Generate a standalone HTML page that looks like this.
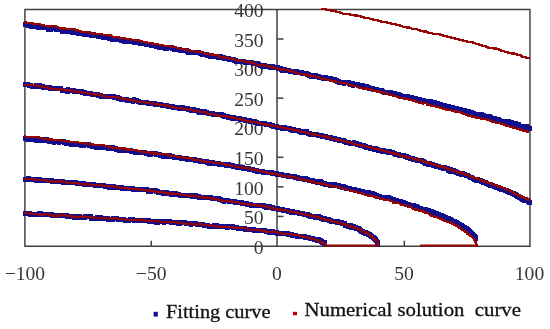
<!DOCTYPE html>
<html><head><meta charset="utf-8"><style>html,body{margin:0;padding:0;background:#fff;}svg{display:block}</style></head>
<body><svg width="550" height="329" viewBox="0 0 550 329">
<text x="263.6" y="253.6" text-anchor="end" font-family="Liberation Serif, serif" font-size="19.6" fill="#3a3434">0</text>
<text x="263.6" y="224.0" text-anchor="end" font-family="Liberation Serif, serif" font-size="19.6" fill="#3a3434">50</text>
<text x="263.6" y="194.5" text-anchor="end" font-family="Liberation Serif, serif" font-size="19.6" fill="#3a3434">100</text>
<text x="263.6" y="164.9" text-anchor="end" font-family="Liberation Serif, serif" font-size="19.6" fill="#3a3434">150</text>
<text x="263.6" y="135.3" text-anchor="end" font-family="Liberation Serif, serif" font-size="19.6" fill="#3a3434">200</text>
<text x="263.6" y="105.8" text-anchor="end" font-family="Liberation Serif, serif" font-size="19.6" fill="#3a3434">250</text>
<text x="263.6" y="76.2" text-anchor="end" font-family="Liberation Serif, serif" font-size="19.6" fill="#3a3434">300</text>
<text x="263.6" y="46.6" text-anchor="end" font-family="Liberation Serif, serif" font-size="19.6" fill="#3a3434">350</text>
<text x="263.6" y="17.0" text-anchor="end" font-family="Liberation Serif, serif" font-size="19.6" fill="#3a3434">400</text>
<text x="24.9" y="279.6" text-anchor="middle" font-family="Liberation Serif, serif" font-size="19.6" fill="#3a3434">−100</text>
<text x="151.2" y="279.6" text-anchor="middle" font-family="Liberation Serif, serif" font-size="19.6" fill="#3a3434">−50</text>
<text x="277" y="279.6" text-anchor="middle" font-family="Liberation Serif, serif" font-size="19.6" fill="#3a3434">0</text>
<text x="404" y="279.6" text-anchor="middle" font-family="Liberation Serif, serif" font-size="19.6" fill="#3a3434">50</text>
<text x="529.5" y="279.6" text-anchor="middle" font-family="Liberation Serif, serif" font-size="19.6" fill="#3a3434">100</text>
<path d="M24.9 9.47H529.95V246.2H24.9Z" fill="none" stroke="#404040" stroke-width="1.45"/>
<line x1="277.0" y1="9.47" x2="277.0" y2="246.2" stroke="#404040" stroke-width="1.5"/>
<line x1="277.0" y1="216.43" x2="283.50" y2="216.43" stroke="#404040" stroke-width="1.5"/>
<line x1="277.0" y1="186.86" x2="283.50" y2="186.86" stroke="#404040" stroke-width="1.5"/>
<line x1="277.0" y1="157.29" x2="283.50" y2="157.29" stroke="#404040" stroke-width="1.5"/>
<line x1="277.0" y1="127.72" x2="283.50" y2="127.72" stroke="#404040" stroke-width="1.5"/>
<line x1="277.0" y1="98.16" x2="283.50" y2="98.16" stroke="#404040" stroke-width="1.5"/>
<line x1="277.0" y1="68.59" x2="283.50" y2="68.59" stroke="#404040" stroke-width="1.5"/>
<line x1="277.0" y1="39.02" x2="283.50" y2="39.02" stroke="#404040" stroke-width="1.5"/>
<line x1="151.2" y1="246.0" x2="151.2" y2="240.7" stroke="#404040" stroke-width="1.5"/>
<line x1="404.3" y1="246.0" x2="404.3" y2="240.7" stroke="#404040" stroke-width="1.5"/>
<path d="M23 22h3v5h-3zM26 22h3v6h-3zM29 22h1v7h-1zM30 23h3v6h-3zM33 24h3v5h-3zM36 24h8v6h-8zM44 25h2v5h-2zM46 25h3v7h-3zM49 27h1v5h-1zM50 26h3v6h-3zM53 26h1v5h-1zM54 26h4v6h-4zM58 27h2v5h-2zM60 27h3v7h-3zM63 29h7v5h-7zM70 29h3v6h-3zM73 30h3v5h-3zM76 30h4v6h-4zM80 31h2v5h-2zM82 31h4v6h-4zM86 32h3v5h-3zM89 32h7v6h-7zM96 33h4v6h-4zM100 34h1v5h-1zM101 34h4v6h-4zM105 35h2v5h-2zM107 35h3v6h-3zM110 35h1v7h-1zM111 36h6v6h-6zM117 37h2v5h-2zM119 37h3v6h-3zM122 37h1v7h-1zM123 38h6v6h-6zM129 39h3v5h-3zM132 39h4v6h-4zM136 40h2v5h-2zM138 40h4v6h-4zM142 41h2v5h-2zM144 41h3v6h-3zM147 42h2v5h-2zM149 42h4v6h-4zM153 43h1v5h-1zM154 43h3v6h-3zM157 43h1v7h-1zM158 44h3v6h-3zM161 45h2v5h-2zM163 45h6v6h-6zM169 45h1v5h-1zM170 45h2v6h-2zM172 45h2v7h-2zM174 46h2v6h-2zM176 47h2v5h-2zM178 47h4v6h-4zM182 48h3v5h-3zM185 48h1v6h-1zM186 48h3v7h-3zM189 49h1v6h-1zM190 50h8v5h-8zM198 50h2v6h-2zM200 50h1v7h-1zM201 51h3v6h-3zM204 52h1v5h-1zM205 52h3v6h-3zM208 52h1v7h-1zM209 53h2v6h-2zM211 54h5v5h-5zM216 54h6v6h-6zM222 54h1v7h-1zM223 55h3v6h-3zM226 56h1v5h-1zM227 56h4v6h-4zM231 57h1v5h-1zM232 57h2v6h-2zM234 57h2v7h-2zM236 58h2v6h-2zM238 59h5v5h-5zM243 59h3v6h-3zM246 60h5v5h-5zM251 60h3v6h-3zM254 61h2v5h-2zM256 61h2v6h-2zM258 61h2v7h-2zM260 62h1v7h-1zM261 63h6v6h-6zM267 64h1v5h-1zM268 64h7v6h-7zM275 65h1v5h-1zM276 65h3v6h-3zM279 65h1v7h-1zM280 66h3v7h-3zM283 67h4v6h-4zM287 68h1v5h-1zM288 68h3v6h-3zM291 69h2v5h-2zM293 69h6v6h-6zM299 70h1v5h-1zM300 70h4v6h-4zM304 71h1v5h-1zM305 71h2v6h-2zM307 71h2v7h-2zM309 72h2v7h-2zM311 73h6v6h-6zM317 73h1v7h-1zM318 74h3v6h-3zM321 75h7v6h-7zM328 76h1v5h-1zM329 76h4v6h-4zM333 77h2v6h-2zM335 77h2v7h-2zM337 78h2v7h-2zM339 79h2v6h-2zM341 80h1v5h-1zM342 80h4v6h-4zM346 80h1v5h-1zM347 80h1v6h-1zM348 80h3v7h-3zM351 81h4v7h-4zM355 82h1v5h-1zM356 82h4v6h-4zM360 83h1v5h-1zM361 83h4v6h-4zM365 84h2v6h-2zM367 84h2v7h-2zM369 85h2v6h-2zM371 86h4v6h-4zM375 87h1v5h-1zM376 87h3v6h-3zM379 88h1v5h-1zM380 88h2v6h-2zM382 88h2v7h-2zM384 89h1v6h-1zM385 90h4v5h-4zM389 90h4v6h-4zM393 91h4v6h-4zM397 92h2v6h-2zM399 92h2v7h-2zM401 93h2v6h-2zM403 94h7v6h-7zM410 95h4v6h-4zM414 96h4v6h-4zM418 97h4v6h-4zM422 98h1v5h-1zM423 98h3v6h-3zM426 99h1v5h-1zM427 99h6v6h-6zM433 100h3v6h-3zM436 100h1v7h-1zM437 101h2v6h-2zM439 101h1v7h-1zM440 102h3v6h-3zM443 103h4v6h-4zM447 104h2v6h-2zM449 104h2v7h-2zM451 105h4v6h-4zM455 106h4v6h-4zM459 107h4v6h-4zM463 108h4v6h-4zM467 109h4v6h-4zM471 110h1v6h-1zM472 110h2v7h-2zM474 111h2v6h-2zM476 112h6v6h-6zM482 112h2v7h-2zM484 113h2v6h-2zM486 114h2v5h-2zM488 114h2v6h-2zM490 114h2v7h-2zM492 115h1v6h-1zM493 116h4v6h-4zM497 117h2v6h-2zM499 117h2v7h-2zM501 118h1v6h-1zM502 119h2v5h-2zM504 119h6v6h-6zM510 119h1v7h-1zM511 120h1v6h-1zM512 120h2v7h-2zM514 121h3v6h-3zM517 121h1v8h-1zM518 122h3v7h-3zM521 124h5v6h-5zM526 124h3v7h-3zM529 125h1v6h-1zM530 126h2v5h-2z" fill="#10108e" shape-rendering="crispEdges"/>
<path d="M23 82h4v5h-4zM27 82h3v6h-3zM30 83h3v6h-3zM33 84h1v5h-1zM34 83h7v6h-7zM41 83h1v7h-1zM42 84h3v6h-3zM45 85h3v5h-3zM48 85h4v6h-4zM52 86h8v5h-8zM60 86h3v7h-3zM63 88h2v5h-2zM65 88h1v6h-1zM66 87h4v7h-4zM70 88h2v5h-2zM72 88h4v6h-4zM76 89h4v5h-4zM80 89h3v6h-3zM83 89h1v7h-1zM84 90h3v6h-3zM87 91h3v5h-3zM90 91h3v6h-3zM93 92h3v5h-3zM96 92h3v6h-3zM99 92h1v7h-1zM100 93h3v6h-3zM103 94h9v5h-9zM112 94h4v6h-4zM116 95h3v6h-3zM119 95h1v7h-1zM120 96h2v6h-2zM122 97h3v5h-3zM125 97h4v6h-4zM129 98h2v5h-2zM131 98h1v6h-1zM132 97h3v7h-3zM135 97h1v6h-1zM136 98h2v6h-2zM138 98h1v7h-1zM139 99h2v6h-2zM141 100h5v5h-5zM146 100h3v6h-3zM149 101h4v5h-4zM153 101h4v6h-4zM157 102h3v5h-3zM160 102h3v6h-3zM163 103h3v5h-3zM166 103h3v6h-3zM169 104h2v5h-2zM171 104h4v6h-4zM175 105h2v5h-2zM177 105h8v6h-8zM185 106h1v5h-1zM186 106h3v6h-3zM189 106h1v7h-1zM190 107h6v6h-6zM196 108h1v6h-1zM197 108h3v7h-3zM200 109h6v6h-6zM206 109h1v7h-1zM207 110h2v6h-2zM209 111h2v5h-2zM211 111h4v6h-4zM215 112h5v5h-5zM220 112h2v6h-2zM222 112h2v7h-2zM224 113h2v6h-2zM226 114h4v6h-4zM230 115h6v6h-6zM236 116h2v5h-2zM238 116h4v6h-4zM242 117h1v5h-1zM243 117h4v6h-4zM247 118h1v5h-1zM248 118h4v6h-4zM252 119h1v5h-1zM253 119h3v6h-3zM256 119h1v7h-1zM257 120h2v6h-2zM259 121h5v5h-5zM264 121h3v6h-3zM267 122h2v5h-2zM269 122h2v6h-2zM271 122h1v7h-1zM272 123h3v6h-3zM275 124h4v6h-4zM279 125h1v5h-1zM280 125h7v6h-7zM287 126h1v5h-1zM288 126h2v6h-2zM290 126h2v7h-2zM292 127h4v6h-4zM296 128h1v5h-1zM297 128h2v6h-2zM299 128h2v7h-2zM301 129h5v6h-5zM306 129h2v7h-2zM308 129h1v8h-1zM309 131h3v6h-3zM312 132h4v5h-4zM316 132h3v6h-3zM319 133h1v5h-1zM320 133h4v6h-4zM324 134h1v5h-1zM325 134h3v6h-3zM328 135h1v5h-1zM329 135h4v6h-4zM333 136h4v6h-4zM337 137h4v6h-4zM341 138h1v5h-1zM342 138h2v6h-2zM344 138h2v7h-2zM346 139h1v6h-1zM347 140h1v5h-1zM348 140h3v6h-3zM351 141h1v5h-1zM352 140h3v6h-3zM355 140h1v7h-1zM356 141h2v6h-2zM358 141h1v7h-1zM359 142h3v6h-3zM362 143h2v6h-2zM364 143h2v7h-2zM366 144h2v6h-2zM368 145h4v6h-4zM372 146h4v6h-4zM376 146h2v7h-2zM378 147h2v6h-2zM380 148h6v6h-6zM386 149h6v6h-6zM392 150h1v6h-1zM393 150h2v7h-2zM395 151h2v6h-2zM397 152h4v6h-4zM401 153h2v5h-2zM403 153h2v6h-2zM405 153h1v7h-1zM406 154h2v6h-2zM408 154h1v7h-1zM409 155h2v6h-2zM411 156h4v6h-4zM415 157h3v6h-3zM418 158h2v5h-2zM420 158h2v6h-2zM422 158h1v7h-1zM423 158h1v8h-1zM424 159h2v7h-2zM426 160h1v7h-1zM427 161h4v6h-4zM431 161h1v7h-1zM432 162h2v6h-2zM434 162h1v7h-1zM435 163h3v6h-3zM438 164h3v6h-3zM441 165h5v6h-5zM446 165h1v8h-1zM447 166h1v7h-1zM448 166h2v8h-2zM450 167h3v7h-3zM453 168h1v6h-1zM454 168h2v7h-2zM456 169h2v7h-2zM458 170h1v6h-1zM459 170h1v7h-1zM460 171h4v6h-4zM464 171h1v7h-1zM465 172h2v6h-2zM467 173h1v6h-1zM468 173h2v7h-2zM470 174h1v6h-1zM471 175h1v6h-1zM472 175h2v7h-2zM474 176h1v7h-1zM475 177h4v6h-4zM479 177h1v7h-1zM480 178h1v6h-1zM481 178h2v7h-2zM483 179h1v6h-1zM484 179h1v7h-1zM485 180h1v6h-1zM486 180h2v7h-2zM488 181h1v7h-1zM489 182h3v6h-3zM492 182h1v7h-1zM493 183h1v6h-1zM494 183h1v7h-1zM495 184h2v6h-2zM497 184h1v7h-1zM498 185h1v6h-1zM499 185h1v7h-1zM500 186h3v6h-3zM503 187h2v6h-2zM505 187h1v7h-1zM506 188h1v6h-1zM507 188h2v7h-2zM509 189h1v6h-1zM510 189h1v7h-1zM511 190h1v6h-1zM512 190h1v7h-1zM513 191h1v6h-1zM514 191h1v7h-1zM515 191h1v8h-1zM516 192h1v7h-1zM517 192h1v8h-1zM518 193h1v7h-1zM519 194h1v7h-1zM520 194h1v8h-1zM521 195h1v7h-1zM522 195h1v8h-1zM523 196h1v7h-1zM524 197h2v6h-2zM526 197h1v7h-1zM527 197h1v8h-1zM528 198h2v7h-2zM530 199h1v6h-1zM531 200h1v5h-1z" fill="#10108e" shape-rendering="crispEdges"/>
<path d="M23 136h2v5h-2zM25 136h4v6h-4zM29 137h5v5h-5zM34 137h13v6h-13zM47 137h2v7h-2zM49 138h2v6h-2zM51 139h1v5h-1zM52 139h4v6h-4zM56 139h1v5h-1zM57 139h4v6h-4zM61 139h1v5h-1zM62 139h2v6h-2zM64 139h2v7h-2zM66 140h1v6h-1zM67 141h2v5h-2zM69 141h9v6h-9zM78 142h1v5h-1zM79 142h3v6h-3zM82 143h1v5h-1zM83 142h3v6h-3zM86 142h1v5h-1zM87 142h3v6h-3zM90 142h1v7h-1zM91 143h3v6h-3zM94 144h8v6h-8zM102 145h4v5h-4zM106 145h8v6h-8zM114 145h1v7h-1zM115 146h2v6h-2zM117 146h1v7h-1zM118 147h7v6h-7zM125 148h4v5h-4zM129 148h4v6h-4zM133 149h4v6h-4zM137 150h7v5h-7zM144 150h3v6h-3zM147 151h6v6h-6zM153 151h1v5h-1zM154 151h4v6h-4zM158 152h3v6h-3zM161 152h1v7h-1zM162 153h10v6h-10zM172 154h3v6h-3zM175 155h4v5h-4zM179 155h3v6h-3zM182 156h3v5h-3zM185 156h4v6h-4zM189 157h4v5h-4zM193 157h4v6h-4zM197 158h1v5h-1zM198 158h4v6h-4zM202 159h3v5h-3zM205 159h2v6h-2zM207 159h2v7h-2zM209 160h6v6h-6zM215 161h2v5h-2zM217 161h4v6h-4zM221 162h3v5h-3zM224 162h7v6h-7zM231 163h4v6h-4zM235 164h4v6h-4zM239 165h2v5h-2zM241 165h4v6h-4zM245 166h2v5h-2zM247 166h4v6h-4zM251 167h1v5h-1zM252 167h3v6h-3zM255 168h4v6h-4zM259 169h2v5h-2zM261 169h4v6h-4zM265 170h5v5h-5zM270 170h4v6h-4zM274 171h1v5h-1zM275 171h4v6h-4zM279 172h2v5h-2zM281 172h3v6h-3zM284 173h2v5h-2zM286 173h4v6h-4zM290 174h3v5h-3zM293 174h3v6h-3zM296 174h1v7h-1zM297 175h3v6h-3zM300 176h2v5h-2zM302 176h5v6h-5zM307 176h1v7h-1zM308 177h2v6h-2zM310 178h1v5h-1zM311 178h4v6h-4zM315 179h5v6h-5zM320 179h3v7h-3zM323 180h1v7h-1zM324 181h3v6h-3zM327 182h1v5h-1zM328 182h9v6h-9zM337 183h3v6h-3zM340 183h1v7h-1zM341 184h3v6h-3zM344 184h2v7h-2zM346 185h2v6h-2zM348 186h1v5h-1zM349 186h3v6h-3zM352 187h1v5h-1zM353 187h4v6h-4zM357 188h4v6h-4zM361 189h4v6h-4zM365 190h6v6h-6zM371 191h1v5h-1zM372 191h1v6h-1zM373 191h2v7h-2zM375 192h2v7h-2zM377 193h2v6h-2zM379 194h3v6h-3zM382 195h1v5h-1zM383 195h7v6h-7zM390 195h1v7h-1zM391 196h1v6h-1zM392 196h1v7h-1zM393 197h3v6h-3zM396 198h3v6h-3zM399 199h3v6h-3zM402 199h1v7h-1zM403 200h1v6h-1zM404 200h2v7h-2zM406 201h1v6h-1zM407 201h1v7h-1zM408 202h3v6h-3zM411 203h1v5h-1zM412 203h3v6h-3zM415 203h1v7h-1zM416 204h1v6h-1zM417 204h2v7h-2zM419 205h1v6h-1zM420 206h3v6h-3zM423 207h1v5h-1zM424 207h3v6h-3zM427 207h1v7h-1zM428 208h2v6h-2zM430 208h1v7h-1zM431 209h1v6h-1zM432 209h2v7h-2zM434 210h1v6h-1zM435 210h1v7h-1zM436 211h1v6h-1zM437 211h2v7h-2zM439 212h1v6h-1zM440 212h1v7h-1zM441 213h1v6h-1zM442 213h2v7h-2zM444 214h1v6h-1zM445 214h1v7h-1zM446 215h1v6h-1zM447 215h1v7h-1zM448 216h1v6h-1zM449 216h1v7h-1zM450 216h1v8h-1zM451 217h1v7h-1zM452 217h1v8h-1zM453 218h1v7h-1zM454 219h1v6h-1zM455 219h2v7h-2zM457 220h1v7h-1zM458 220h1v8h-1zM459 221h1v7h-1zM460 222h2v7h-2zM462 223h1v7h-1zM463 223h1v8h-1zM464 224h1v7h-1zM465 225h1v7h-1zM466 225h1v8h-1zM467 226h1v8h-1zM468 226h1v9h-1zM469 227h1v8h-1zM470 228h1v8h-1zM471 229h1v9h-1zM472 230h1v9h-1zM473 231h1v9h-1zM474 232h1v9h-1zM475 233h1v8h-1zM476 234h1v7h-1zM477 235h1v6h-1z" fill="#10108e" shape-rendering="crispEdges"/>
<path d="M23 177h3v5h-3zM26 176h5v6h-5zM31 177h3v5h-3zM34 177h8v6h-8zM42 178h8v5h-8zM50 178h4v6h-4zM54 179h7v5h-7zM61 179h4v6h-4zM65 180h10v5h-10zM75 180h3v6h-3zM78 181h4v5h-4zM82 181h4v6h-4zM86 182h7v5h-7zM93 182h3v6h-3zM96 183h7v5h-7zM103 183h3v6h-3zM106 184h1v5h-1zM107 184h9v6h-9zM116 185h4v5h-4zM120 185h4v6h-4zM124 186h7v5h-7zM131 186h4v6h-4zM135 187h11v5h-11zM146 187h3v7h-3zM149 188h4v6h-4zM153 188h1v5h-1zM154 188h2v6h-2zM156 188h2v7h-2zM158 189h2v6h-2zM160 190h1v5h-1zM161 190h8v6h-8zM169 191h9v6h-9zM178 192h3v6h-3zM181 193h9v5h-9zM190 193h7v6h-7zM197 193h1v7h-1zM198 194h3v6h-3zM201 195h9v5h-9zM210 195h3v6h-3zM213 196h4v5h-4zM217 196h3v6h-3zM220 196h1v7h-1zM221 197h1v6h-1zM222 197h1v7h-1zM223 198h3v6h-3zM226 198h1v5h-1zM227 198h3v6h-3zM230 199h3v5h-3zM233 199h4v6h-4zM237 200h3v5h-3zM240 200h4v6h-4zM244 201h1v5h-1zM245 201h4v6h-4zM249 202h4v6h-4zM253 203h9v5h-9zM262 203h2v6h-2zM264 203h2v7h-2zM266 204h5v6h-5zM271 204h1v7h-1zM272 205h3v6h-3zM275 206h1v5h-1zM276 206h4v6h-4zM280 207h1v5h-1zM281 207h4v6h-4zM285 208h1v5h-1zM286 208h3v6h-3zM289 208h1v7h-1zM290 209h5v6h-5zM295 210h2v5h-2zM297 210h3v6h-3zM300 211h2v5h-2zM302 211h3v6h-3zM305 212h1v5h-1zM306 212h2v6h-2zM308 212h2v7h-2zM310 213h2v6h-2zM312 214h1v5h-1zM313 214h6v6h-6zM319 214h2v7h-2zM321 215h2v7h-2zM323 216h4v6h-4zM327 217h2v6h-2zM329 217h2v7h-2zM331 218h2v6h-2zM333 219h2v5h-2zM335 219h5v6h-5zM340 220h3v6h-3zM343 220h1v8h-1zM344 221h2v7h-2zM346 221h1v8h-1zM347 223h2v6h-2zM349 223h4v7h-4zM353 224h1v6h-1zM354 224h2v7h-2zM356 225h1v6h-1zM357 225h1v7h-1zM358 226h1v7h-1zM359 226h2v8h-2zM361 227h1v8h-1zM362 228h1v7h-1zM363 229h2v7h-2zM365 230h1v6h-1zM366 230h2v7h-2zM368 231h1v7h-1zM369 231h1v8h-1zM370 232h1v7h-1zM371 232h1v8h-1zM372 233h1v8h-1zM373 234h1v8h-1zM374 235h1v8h-1zM375 235h1v10h-1zM376 236h1v11h-1zM377 237h1v10h-1zM378 239h1v8h-1zM379 240h1v7h-1z" fill="#10108e" shape-rendering="crispEdges"/>
<path d="M23 211h5v5h-5zM28 211h4v6h-4zM32 212h5v5h-5zM37 211h6v6h-6zM43 212h7v5h-7zM50 212h4v6h-4zM54 213h11v5h-11zM65 213h4v6h-4zM69 214h3v5h-3zM72 214h10v6h-10zM82 215h1v5h-1zM83 214h4v6h-4zM87 214h2v5h-2zM89 214h4v7h-4zM93 216h2v5h-2zM95 215h8v6h-8zM103 216h3v5h-3zM106 216h4v6h-4zM110 217h1v5h-1zM111 216h4v6h-4zM115 216h1v5h-1zM116 216h3v6h-3zM119 217h4v5h-4zM123 217h3v6h-3zM126 218h2v5h-2zM128 217h3v6h-3zM131 217h1v5h-1zM132 217h3v6h-3zM135 218h12v5h-12zM147 218h4v6h-4zM151 219h3v5h-3zM154 219h6v6h-6zM160 219h2v5h-2zM162 219h4v6h-4zM166 219h3v5h-3zM169 219h3v6h-3zM172 220h4v5h-4zM176 220h6v6h-6zM182 220h2v5h-2zM184 220h3v6h-3zM187 221h2v5h-2zM189 221h4v6h-4zM193 221h2v5h-2zM195 221h3v6h-3zM198 222h4v5h-4zM202 222h3v6h-3zM205 223h2v5h-2zM207 223h3v6h-3zM210 224h2v5h-2zM212 223h7v6h-7zM219 224h6v5h-6zM225 224h5v6h-5zM230 224h1v5h-1zM231 224h4v6h-4zM235 225h1v5h-1zM236 225h3v6h-3zM239 226h4v5h-4zM243 226h4v6h-4zM247 227h5v5h-5zM252 227h4v6h-4zM256 228h8v5h-8zM264 228h3v6h-3zM267 229h8v6h-8zM275 230h4v6h-4zM279 231h7v5h-7zM286 231h4v6h-4zM290 232h4v6h-4zM294 233h1v5h-1zM295 233h3v6h-3zM298 234h5v5h-5zM303 234h4v6h-4zM307 235h1v5h-1zM308 235h3v6h-3zM311 236h1v5h-1zM312 236h3v6h-3zM315 237h4v6h-4zM319 237h1v7h-1zM320 237h1v8h-1zM321 238h1v7h-1zM322 238h1v8h-1zM323 239h1v7h-1zM324 240h3v6h-3z" fill="#10108e" shape-rendering="crispEdges"/>
<path d="M24 21h1v2h-1zM25 21h2v3h-2zM27 22h5v2h-5zM32 22h2v3h-2zM34 23h6v2h-6zM40 23h1v3h-1zM41 24h3v2h-3zM44 24h1v3h-1zM45 25h3v2h-3zM48 25h2v3h-2zM50 25h5v2h-5zM55 25h2v3h-2zM57 26h1v2h-1zM58 26h1v3h-1zM59 27h2v2h-2zM61 27h5v3h-5zM66 28h8v2h-8zM74 28h2v3h-2zM76 29h1v2h-1zM77 29h2v3h-2zM79 30h1v2h-1zM80 30h2v3h-2zM82 31h7v2h-7zM89 31h2v3h-2zM91 32h1v2h-1zM92 32h2v3h-2zM94 33h7v2h-7zM101 33h2v3h-2zM103 34h7v2h-7zM110 34h1v3h-1zM111 34h1v4h-1zM112 35h1v3h-1zM113 36h5v2h-5zM118 36h2v3h-2zM120 37h4v2h-4zM124 37h2v3h-2zM126 38h4v2h-4zM130 38h2v3h-2zM132 39h6v2h-6zM138 39h2v3h-2zM140 40h1v2h-1zM141 40h2v3h-2zM143 41h3v2h-3zM146 41h2v3h-2zM148 42h4v2h-4zM152 42h2v3h-2zM154 43h3v2h-3zM157 43h2v3h-2zM159 44h4v2h-4zM163 44h1v3h-1zM164 45h6v2h-6zM170 45h2v3h-2zM172 46h4v2h-4zM176 46h1v3h-1zM177 47h2v2h-2zM179 47h1v3h-1zM180 48h4v2h-4zM184 48h2v3h-2zM186 49h3v2h-3zM189 49h2v3h-2zM191 50h3v2h-3zM194 50h2v3h-2zM196 51h6v2h-6zM202 51h2v3h-2zM204 52h2v3h-2zM206 53h4v2h-4zM210 53h4v3h-4zM214 54h3v2h-3zM217 54h1v3h-1zM218 54h1v4h-1zM219 55h1v3h-1zM220 56h2v2h-2zM222 56h4v3h-4zM226 57h3v2h-3zM229 57h2v3h-2zM231 58h3v2h-3zM234 58h2v3h-2zM236 59h1v2h-1zM237 59h1v3h-1zM238 60h1v2h-1zM239 59h2v3h-2zM241 60h3v2h-3zM244 60h2v3h-2zM246 61h3v2h-3zM249 61h4v3h-4zM253 62h2v3h-2zM255 63h1v2h-1zM256 63h1v3h-1zM257 64h6v2h-6zM263 64h1v3h-1zM264 65h1v2h-1zM265 64h2v3h-2zM267 65h2v2h-2zM269 65h2v3h-2zM271 66h1v2h-1zM272 66h2v3h-2zM274 67h3v2h-3zM277 67h1v3h-1zM278 68h1v2h-1zM279 68h3v3h-3zM282 68h2v2h-2zM284 68h1v3h-1zM285 69h3v2h-3zM288 69h2v3h-2zM290 70h2v2h-2zM292 70h2v3h-2zM294 71h1v2h-1zM295 71h2v3h-2zM297 72h2v3h-2zM299 73h5v2h-5zM304 73h2v3h-2zM306 74h2v2h-2zM308 74h4v3h-4zM312 75h3v2h-3zM315 75h1v3h-1zM316 76h3v2h-3zM319 76h1v3h-1zM320 77h1v2h-1zM321 77h2v3h-2zM323 78h3v2h-3zM326 78h1v3h-1zM327 79h3v2h-3zM330 79h2v3h-2zM332 80h2v2h-2zM334 80h2v3h-2zM336 81h3v2h-3zM339 81h1v3h-1zM340 82h5v2h-5zM345 82h2v3h-2zM347 83h2v3h-2zM349 84h2v2h-2zM351 84h2v3h-2zM353 85h3v2h-3zM356 85h1v3h-1zM357 86h1v2h-1zM358 86h1v3h-1zM359 87h3v2h-3zM362 87h1v3h-1zM363 88h2v2h-2zM365 87h3v3h-3zM368 88h2v2h-2zM370 88h2v3h-2zM372 89h2v3h-2zM374 90h2v2h-2zM376 90h4v3h-4zM380 91h2v2h-2zM382 91h2v3h-2zM384 92h2v2h-2zM386 92h2v3h-2zM388 93h2v3h-2zM390 94h2v2h-2zM392 94h2v3h-2zM394 95h2v2h-2zM396 95h2v3h-2zM398 96h2v3h-2zM400 97h4v2h-4zM404 97h2v3h-2zM406 98h2v2h-2zM408 98h2v3h-2zM410 99h2v2h-2zM412 99h2v3h-2zM414 100h1v2h-1zM415 100h2v3h-2zM417 101h1v2h-1zM418 101h2v3h-2zM420 102h2v2h-2zM422 102h2v3h-2zM424 102h2v2h-2zM426 102h2v4h-2zM428 104h2v2h-2zM430 104h1v3h-1zM431 105h4v2h-4zM435 105h2v3h-2zM437 106h2v2h-2zM439 106h2v3h-2zM441 107h1v2h-1zM442 107h2v3h-2zM444 108h1v2h-1zM445 108h2v3h-2zM447 109h4v2h-4zM451 109h1v3h-1zM452 110h2v2h-2zM454 110h4v3h-4zM458 111h2v2h-2zM460 111h2v3h-2zM462 112h2v3h-2zM464 113h1v2h-1zM465 113h2v3h-2zM467 114h2v3h-2zM469 115h2v2h-2zM471 115h2v3h-2zM473 116h2v2h-2zM475 116h3v3h-3zM478 117h2v2h-2zM480 117h2v3h-2zM482 118h4v2h-4zM486 118h1v3h-1zM487 119h2v2h-2zM489 119h2v3h-2zM491 120h2v3h-2zM493 121h2v2h-2zM495 121h1v3h-1zM496 122h4v2h-4zM500 122h2v3h-2zM502 123h1v2h-1zM503 123h2v3h-2zM505 124h2v3h-2zM507 125h2v2h-2zM509 125h1v3h-1zM510 126h2v2h-2zM512 126h2v3h-2zM514 127h2v2h-2zM516 127h1v3h-1zM517 128h2v2h-2zM519 128h2v3h-2zM521 129h1v2h-1zM522 129h2v3h-2zM524 130h2v2h-2zM526 130h2v3h-2zM528 131h1v2h-1z" fill="#960404" shape-rendering="crispEdges"/>
<path d="M24 84h11v2h-11zM35 84h2v3h-2zM37 85h4v2h-4zM41 85h1v3h-1zM42 86h4v2h-4zM46 86h2v3h-2zM48 87h1v2h-1zM49 87h2v3h-2zM51 88h6v2h-6zM57 88h1v3h-1zM58 89h1v2h-1zM59 88h1v3h-1zM60 88h2v2h-2zM62 88h1v3h-1zM63 89h4v2h-4zM67 89h3v3h-3zM70 89h1v2h-1zM71 89h1v3h-1zM72 90h2v2h-2zM74 90h2v3h-2zM76 91h5v2h-5zM81 91h2v3h-2zM83 92h5v2h-5zM88 92h2v3h-2zM90 93h4v2h-4zM94 93h3v3h-3zM97 93h1v2h-1zM98 93h1v3h-1zM99 94h2v2h-2zM101 94h2v3h-2zM103 95h2v2h-2zM105 95h2v3h-2zM107 96h10v2h-10zM117 96h2v3h-2zM119 97h2v2h-2zM121 97h2v3h-2zM123 98h4v2h-4zM127 98h2v3h-2zM129 99h4v2h-4zM133 99h2v3h-2zM135 100h1v2h-1zM136 100h2v3h-2zM138 101h7v2h-7zM145 101h2v3h-2zM147 102h4v2h-4zM151 102h2v3h-2zM153 103h4v2h-4zM157 103h2v3h-2zM159 104h5v2h-5zM164 104h2v3h-2zM166 104h1v2h-1zM167 104h1v3h-1zM168 105h1v2h-1zM169 105h2v3h-2zM171 106h2v2h-2zM173 106h2v3h-2zM175 107h6v2h-6zM181 107h2v3h-2zM183 108h7v2h-7zM190 108h1v3h-1zM191 109h2v2h-2zM193 109h2v3h-2zM195 110h3v2h-3zM198 110h2v3h-2zM200 111h6v2h-6zM206 111h1v4h-1zM207 112h1v3h-1zM208 113h7v2h-7zM215 113h1v3h-1zM216 114h1v2h-1zM217 114h2v3h-2zM219 115h6v2h-6zM225 115h2v3h-2zM227 116h4v2h-4zM231 116h2v3h-2zM233 117h3v2h-3zM236 117h2v3h-2zM238 118h3v2h-3zM241 118h2v3h-2zM243 119h1v2h-1zM244 119h2v3h-2zM246 120h3v2h-3zM249 120h2v3h-2zM251 121h6v2h-6zM257 121h1v3h-1zM258 122h1v2h-1zM259 122h2v3h-2zM261 123h3v2h-3zM264 123h4v3h-4zM268 124h3v2h-3zM271 124h2v3h-2zM273 125h3v2h-3zM276 125h2v3h-2zM278 126h3v2h-3zM281 126h2v3h-2zM283 127h3v2h-3zM286 127h2v3h-2zM288 128h3v2h-3zM291 128h2v3h-2zM293 129h4v2h-4zM297 129h2v3h-2zM299 130h1v2h-1zM300 130h2v3h-2zM302 131h3v2h-3zM305 131h2v3h-2zM307 132h2v2h-2zM309 132h1v3h-1zM310 133h2v2h-2zM312 133h4v3h-4zM316 134h3v2h-3zM319 134h1v3h-1zM320 135h3v2h-3zM323 135h4v3h-4zM327 136h1v2h-1zM328 136h2v3h-2zM330 137h1v3h-1zM331 138h5v2h-5zM336 138h2v3h-2zM338 139h3v2h-3zM341 139h1v3h-1zM342 140h3v2h-3zM345 140h2v3h-2zM347 141h2v2h-2zM349 141h2v3h-2zM351 142h1v2h-1zM352 142h1v3h-1zM353 143h2v2h-2zM355 143h2v3h-2zM357 144h3v2h-3zM360 144h3v3h-3zM363 145h3v2h-3zM366 145h1v3h-1zM367 146h3v2h-3zM370 146h2v3h-2zM372 147h2v2h-2zM374 147h1v3h-1zM375 148h3v2h-3zM378 148h2v3h-2zM380 149h2v2h-2zM382 149h1v3h-1zM383 150h3v2h-3zM386 150h1v3h-1zM387 151h2v2h-2zM389 151h2v3h-2zM391 152h2v2h-2zM393 152h2v3h-2zM395 153h3v2h-3zM398 153h1v3h-1zM399 153h1v4h-1zM400 154h1v3h-1zM401 155h1v2h-1zM402 155h4v3h-4zM406 156h2v2h-2zM408 156h2v3h-2zM410 157h2v2h-2zM412 157h1v3h-1zM413 158h1v2h-1zM414 158h5v3h-5zM419 159h2v2h-2zM421 159h1v3h-1zM422 160h2v3h-2zM424 161h2v2h-2zM426 161h3v3h-3zM429 162h1v2h-1zM430 162h2v3h-2zM432 163h1v2h-1zM433 163h1v3h-1zM434 164h2v2h-2zM436 164h2v3h-2zM438 165h1v2h-1zM439 165h4v3h-4zM443 166h1v2h-1zM444 166h2v3h-2zM446 167h2v3h-2zM448 168h1v2h-1zM449 168h2v3h-2zM451 169h1v2h-1zM452 169h2v3h-2zM454 170h1v2h-1zM455 170h2v3h-2zM457 171h2v3h-2zM459 171h1v2h-1zM460 171h2v3h-2zM462 172h2v3h-2zM464 173h2v3h-2zM466 174h2v2h-2zM468 174h1v3h-1zM469 175h1v2h-1zM470 175h2v3h-2zM472 176h1v2h-1zM473 176h2v3h-2zM475 177h1v2h-1zM476 177h2v3h-2zM478 178h1v2h-1zM479 178h2v3h-2zM481 179h2v3h-2zM483 180h2v3h-2zM485 181h2v2h-2zM487 181h2v3h-2zM489 182h1v2h-1zM490 182h2v3h-2zM492 183h1v2h-1zM493 183h1v3h-1zM494 184h1v2h-1zM495 184h2v3h-2zM497 185h1v2h-1zM498 185h3v3h-3zM501 186h1v2h-1zM502 186h1v3h-1zM503 187h1v2h-1zM504 187h1v3h-1zM505 187h1v4h-1zM506 188h1v3h-1zM507 189h1v2h-1zM508 189h1v3h-1zM509 190h1v2h-1zM510 190h2v3h-2zM512 191h2v3h-2zM514 192h2v3h-2zM516 193h1v3h-1zM517 194h1v2h-1zM518 194h2v3h-2zM520 195h3v3h-3zM523 196h2v3h-2zM525 197h2v3h-2zM527 198h2v3h-2zM529 199h1v2h-1z" fill="#960404" shape-rendering="crispEdges"/>
<path d="M24 135h1v2h-1zM25 135h1v3h-1zM26 136h12v2h-12zM38 136h2v3h-2zM40 137h3v2h-3zM43 137h1v3h-1zM44 138h3v2h-3zM47 138h3v3h-3zM50 138h1v2h-1zM51 138h2v3h-2zM53 139h7v2h-7zM60 139h1v3h-1zM61 140h7v2h-7zM68 140h2v3h-2zM70 141h8v2h-8zM78 141h1v3h-1zM79 142h5v2h-5zM84 142h2v3h-2zM86 143h6v2h-6zM92 143h2v3h-2zM94 144h9v2h-9zM103 144h2v3h-2zM105 145h2v2h-2zM107 145h2v3h-2zM109 146h2v2h-2zM111 146h2v3h-2zM113 147h5v2h-5zM118 147h4v3h-4zM122 147h2v2h-2zM124 147h1v3h-1zM125 147h1v4h-1zM126 148h5v3h-5zM131 149h5v2h-5zM136 149h2v3h-2zM138 150h2v2h-2zM140 150h2v3h-2zM142 151h4v2h-4zM146 151h5v3h-5zM151 152h2v2h-2zM153 152h5v3h-5zM158 153h8v2h-8zM166 153h2v3h-2zM168 154h1v2h-1zM169 154h2v3h-2zM171 155h5v2h-5zM176 155h2v3h-2zM178 156h4v2h-4zM182 156h2v3h-2zM184 157h4v2h-4zM188 157h2v3h-2zM190 157h1v2h-1zM191 157h1v3h-1zM192 157h1v4h-1zM193 158h1v3h-1zM194 159h6v2h-6zM200 159h2v3h-2zM202 160h1v2h-1zM203 160h2v3h-2zM205 161h7v2h-7zM212 161h2v3h-2zM214 162h7v2h-7zM221 162h2v3h-2zM223 163h1v2h-1zM224 163h2v3h-2zM226 164h4v2h-4zM230 164h1v3h-1zM231 165h4v2h-4zM235 165h1v3h-1zM236 166h5v2h-5zM241 166h1v3h-1zM242 167h7v2h-7zM249 167h2v3h-2zM251 168h2v3h-2zM253 169h4v2h-4zM257 169h2v3h-2zM259 170h3v2h-3zM262 170h2v3h-2zM264 171h2v2h-2zM266 171h2v3h-2zM268 172h2v2h-2zM270 172h4v3h-4zM274 173h3v2h-3zM277 173h2v3h-2zM279 174h1v2h-1zM280 174h2v3h-2zM282 175h5v2h-5zM287 175h4v3h-4zM291 176h4v2h-4zM295 176h1v3h-1zM296 177h1v2h-1zM297 177h2v3h-2zM299 178h3v2h-3zM302 178h1v3h-1zM303 179h3v2h-3zM306 179h2v3h-2zM308 180h3v2h-3zM311 180h2v3h-2zM313 181h2v3h-2zM315 182h5v2h-5zM320 182h2v3h-2zM322 183h2v2h-2zM324 183h2v3h-2zM326 184h3v2h-3zM329 184h2v3h-2zM331 185h2v2h-2zM333 185h2v3h-2zM335 186h5v2h-5zM340 186h1v3h-1zM341 187h1v2h-1zM342 187h2v3h-2zM344 188h2v2h-2zM346 188h1v3h-1zM347 189h3v2h-3zM350 189h1v3h-1zM351 190h3v2h-3zM354 190h2v3h-2zM356 191h2v2h-2zM358 191h1v3h-1zM359 192h3v2h-3zM362 192h1v3h-1zM363 193h1v2h-1zM364 193h1v3h-1zM365 194h2v2h-2zM367 194h4v3h-4zM371 195h2v2h-2zM373 195h2v3h-2zM375 196h2v2h-2zM377 196h1v3h-1zM378 197h2v2h-2zM380 197h2v3h-2zM382 198h2v2h-2zM384 198h1v3h-1zM385 199h4v2h-4zM389 199h2v3h-2zM391 200h1v2h-1zM392 200h1v4h-1zM393 201h1v3h-1zM394 202h1v2h-1zM395 201h2v3h-2zM397 202h2v2h-2zM399 202h1v3h-1zM400 203h2v3h-2zM402 204h3v2h-3zM405 204h2v3h-2zM407 205h1v2h-1zM408 205h2v3h-2zM410 206h1v2h-1zM411 206h1v3h-1zM412 206h1v4h-1zM413 208h1v2h-1zM414 208h3v3h-3zM417 209h1v2h-1zM418 209h3v3h-3zM421 210h1v2h-1zM422 210h2v3h-2zM424 211h3v3h-3zM427 212h1v2h-1zM428 212h1v3h-1zM429 213h1v3h-1zM430 214h2v3h-2zM432 215h1v2h-1zM433 215h2v3h-2zM435 216h2v2h-2zM437 216h1v3h-1zM438 217h1v2h-1zM439 217h2v3h-2zM441 218h2v3h-2zM443 219h2v3h-2zM445 220h1v2h-1zM446 220h1v3h-1zM447 221h2v2h-2zM449 221h2v3h-2zM451 222h2v3h-2zM453 223h2v3h-2zM455 224h2v3h-2zM457 225h1v3h-1zM458 225h1v4h-1zM459 226h1v3h-1zM460 227h1v3h-1zM461 228h2v3h-2zM463 229h1v3h-1zM464 230h2v3h-2zM466 231h2v4h-2zM468 233h1v3h-1zM469 233h1v4h-1zM470 234h1v3h-1zM471 235h1v3h-1zM472 236h1v3h-1zM473 236h1v5h-1zM474 238h1v5h-1zM475 239h1v7h-1zM476 241h1v6h-1zM477 244h1v3h-1z" fill="#960404" shape-rendering="crispEdges"/>
<path d="M24 178h10v2h-10zM34 178h1v3h-1zM35 179h10v2h-10zM45 179h2v3h-2zM47 180h5v2h-5zM52 180h2v3h-2zM54 181h3v2h-3zM57 180h2v3h-2zM59 180h2v2h-2zM61 180h2v3h-2zM63 181h3v2h-3zM66 181h1v3h-1zM67 182h11v2h-11zM78 182h2v3h-2zM80 183h3v2h-3zM83 183h3v3h-3zM86 183h3v2h-3zM89 183h1v3h-1zM90 184h12v2h-12zM102 184h1v3h-1zM103 185h6v2h-6zM109 185h2v3h-2zM111 185h2v2h-2zM113 185h2v3h-2zM115 186h3v2h-3zM118 186h2v3h-2zM120 187h7v2h-7zM127 187h2v3h-2zM129 188h10v2h-10zM139 188h2v3h-2zM141 189h5v2h-5zM146 189h1v3h-1zM147 190h2v2h-2zM149 189h3v3h-3zM152 190h2v2h-2zM154 190h2v3h-2zM156 191h7v2h-7zM163 191h2v3h-2zM165 192h2v2h-2zM167 192h6v3h-6zM173 193h6v2h-6zM179 193h2v3h-2zM181 194h6v2h-6zM187 194h2v3h-2zM189 195h2v2h-2zM191 194h2v3h-2zM193 195h3v2h-3zM196 195h2v3h-2zM198 196h4v2h-4zM202 196h2v3h-2zM204 197h2v2h-2zM206 196h2v3h-2zM208 197h3v2h-3zM211 197h2v3h-2zM213 198h4v2h-4zM217 198h2v3h-2zM219 199h2v2h-2zM221 199h1v3h-1zM222 200h9v2h-9zM231 200h2v3h-2zM233 201h5v2h-5zM238 201h1v3h-1zM239 202h2v2h-2zM241 202h2v3h-2zM243 203h4v2h-4zM247 203h5v3h-5zM252 204h5v2h-5zM257 204h4v3h-4zM261 205h4v2h-4zM265 205h2v3h-2zM267 206h1v2h-1zM268 206h2v3h-2zM270 207h3v2h-3zM273 207h2v3h-2zM275 208h2v2h-2zM277 208h4v3h-4zM281 209h4v2h-4zM285 209h2v3h-2zM287 210h2v2h-2zM289 210h2v3h-2zM291 211h4v2h-4zM295 211h2v3h-2zM297 212h3v2h-3zM300 212h2v3h-2zM302 213h3v2h-3zM305 213h2v3h-2zM307 214h2v2h-2zM309 214h2v3h-2zM311 215h3v2h-3zM314 215h2v3h-2zM316 216h2v2h-2zM318 216h2v3h-2zM320 217h2v3h-2zM322 218h2v2h-2zM324 218h2v3h-2zM326 219h4v2h-4zM330 219h2v3h-2zM332 220h2v3h-2zM334 221h3v2h-3zM337 221h2v3h-2zM339 222h2v2h-2zM341 222h1v3h-1zM342 223h2v2h-2zM344 223h2v3h-2zM346 224h1v2h-1zM347 224h2v3h-2zM349 225h1v2h-1zM350 225h2v3h-2zM352 226h1v2h-1zM353 226h3v3h-3zM356 227h1v2h-1zM357 227h1v3h-1zM358 228h1v2h-1zM359 228h1v3h-1zM360 228h1v4h-1zM361 229h1v3h-1zM362 230h2v3h-2zM364 231h3v3h-3zM367 232h1v3h-1zM368 232h1v4h-1zM369 233h1v3h-1zM370 234h1v3h-1zM371 235h1v3h-1zM372 235h1v4h-1zM373 236h1v4h-1zM374 237h1v4h-1zM375 238h1v4h-1zM376 239h1v4h-1zM377 240h1v7h-1zM378 242h1v5h-1z" fill="#960404" shape-rendering="crispEdges"/>
<path d="M24 212h5v2h-5zM29 212h2v3h-2zM31 213h8v2h-8zM39 213h1v3h-1zM40 214h3v2h-3zM43 213h2v3h-2zM45 213h3v2h-3zM48 213h2v3h-2zM50 214h1v2h-1zM51 214h2v3h-2zM53 215h2v2h-2zM55 214h4v3h-4zM59 215h1v2h-1zM60 214h2v3h-2zM62 214h3v2h-3zM65 214h2v3h-2zM67 215h4v2h-4zM71 215h2v3h-2zM73 216h1v2h-1zM74 215h2v3h-2zM76 216h5v2h-5zM81 215h4v3h-4zM85 216h7v2h-7zM92 216h2v3h-2zM94 217h15v2h-15zM109 217h1v3h-1zM110 218h3v2h-3zM113 217h2v3h-2zM115 217h2v2h-2zM117 217h1v3h-1zM118 218h7v2h-7zM125 218h1v3h-1zM126 219h14v2h-14zM140 219h3v3h-3zM143 219h2v2h-2zM145 219h1v3h-1zM146 220h12v2h-12zM158 220h1v3h-1zM159 221h11v2h-11zM170 221h2v3h-2zM172 221h5v2h-5zM177 221h1v3h-1zM178 222h5v2h-5zM183 222h2v3h-2zM185 223h5v2h-5zM190 222h2v3h-2zM192 223h2v2h-2zM194 223h1v3h-1zM195 224h2v2h-2zM197 223h1v3h-1zM198 223h4v2h-4zM202 223h1v3h-1zM203 224h6v2h-6zM209 224h2v3h-2zM211 225h6v2h-6zM217 225h2v3h-2zM219 226h14v2h-14zM233 226h2v3h-2zM235 227h12v2h-12zM247 227h1v4h-1zM248 228h1v3h-1zM249 229h11v2h-11zM260 229h2v3h-2zM262 230h3v2h-3zM265 230h2v3h-2zM267 231h4v2h-4zM271 230h3v3h-3zM274 231h3v2h-3zM277 231h1v3h-1zM278 232h3v2h-3zM281 232h2v3h-2zM283 233h7v2h-7zM290 233h2v3h-2zM292 234h7v2h-7zM299 234h2v3h-2zM301 235h1v2h-1zM302 235h1v3h-1zM303 236h3v2h-3zM306 236h2v3h-2zM308 237h3v2h-3zM311 237h1v3h-1zM312 238h2v2h-2zM314 238h2v3h-2zM316 239h2v2h-2zM318 239h1v3h-1zM319 240h2v3h-2zM321 241h2v3h-2zM323 242h2v3h-2zM325 243h2v4h-2z" fill="#960404" shape-rendering="crispEdges"/>
<path d="M321 8h4v2h-4zM325 8h2v3h-2zM327 9h3v2h-3zM330 9h4v3h-4zM334 10h1v2h-1zM335 10h2v3h-2zM337 11h2v2h-2zM339 11h2v3h-2zM341 12h1v2h-1zM342 12h1v3h-1zM343 13h6v2h-6zM349 13h2v3h-2zM351 14h3v2h-3zM354 14h4v3h-4zM358 15h2v2h-2zM360 15h2v3h-2zM362 16h1v2h-1zM363 16h2v3h-2zM365 17h4v2h-4zM369 17h1v3h-1zM370 18h2v2h-2zM372 18h2v3h-2zM374 19h3v2h-3zM377 19h2v3h-2zM379 20h1v2h-1zM380 20h2v3h-2zM382 21h4v2h-4zM386 21h2v3h-2zM388 22h2v2h-2zM390 22h2v3h-2zM392 23h3v2h-3zM395 23h2v3h-2zM397 24h2v2h-2zM399 24h2v3h-2zM401 25h1v2h-1zM402 25h1v3h-1zM403 26h3v2h-3zM406 26h4v3h-4zM410 27h1v2h-1zM411 27h1v3h-1zM412 28h5v2h-5zM417 28h1v3h-1zM418 29h1v2h-1zM419 29h2v3h-2zM421 30h2v2h-2zM423 30h4v3h-4zM427 31h2v3h-2zM429 32h3v2h-3zM432 32h1v3h-1zM433 33h6v2h-6zM439 33h2v3h-2zM441 34h1v2h-1zM442 34h2v3h-2zM444 35h2v2h-2zM446 35h2v3h-2zM448 36h2v2h-2zM450 36h2v3h-2zM452 37h2v2h-2zM454 37h2v3h-2zM456 38h2v2h-2zM458 38h2v3h-2zM460 39h2v2h-2zM462 39h2v3h-2zM464 40h2v2h-2zM466 40h2v3h-2zM468 41h4v2h-4zM472 41h2v3h-2zM474 42h1v2h-1zM475 42h1v3h-1zM476 43h2v2h-2zM478 43h2v3h-2zM480 44h1v2h-1zM481 44h2v3h-2zM483 45h2v2h-2zM485 45h2v3h-2zM487 46h2v3h-2zM489 47h4v2h-4zM493 47h4v3h-4zM497 48h1v2h-1zM498 48h2v3h-2zM500 49h2v3h-2zM502 50h2v2h-2zM504 50h1v3h-1zM505 51h2v2h-2zM507 51h2v3h-2zM509 52h2v2h-2zM511 52h4v3h-4zM515 53h1v2h-1zM516 53h2v3h-2zM518 54h2v2h-2zM520 54h1v3h-1zM521 54h1v4h-1zM522 55h1v3h-1zM523 56h2v2h-2zM525 56h2v3h-2zM527 57h3v2h-3z" fill="#960404" shape-rendering="crispEdges"/>
<line x1="326" y1="245.6" x2="378.6" y2="245.6" stroke="#960404" stroke-width="2"/>
<line x1="420" y1="245.6" x2="476.6" y2="245.6" stroke="#960404" stroke-width="2"/>
<rect x="153.6" y="311.8" width="4.2" height="4.8" fill="#10108e"/>
<text x="166" y="317.6" font-family="Liberation Serif, serif" font-size="19.5" fill="#111" stroke="#111" stroke-width="0.3" textLength="104.5" lengthAdjust="spacingAndGlyphs">Fitting curve</text>
<rect x="293" y="311.8" width="4" height="3.4" fill="#c80000"/>
<text x="304.5" y="315.7" font-family="Liberation Serif, serif" font-size="19.5" fill="#111" stroke="#111" stroke-width="0.3" xml:space="preserve" textLength="216.5" lengthAdjust="spacingAndGlyphs">Numerical solution  curve</text>
</svg></body></html>
